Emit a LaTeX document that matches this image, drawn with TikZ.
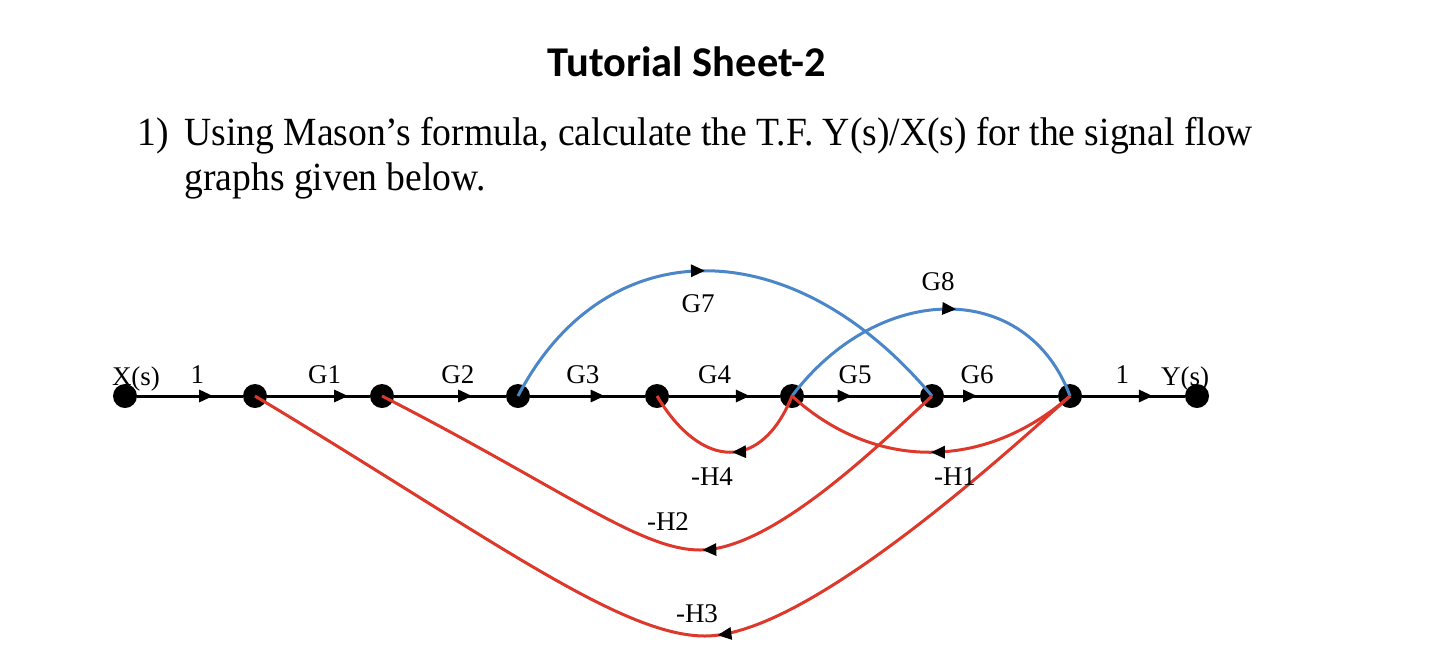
\documentclass[tikz,border=0pt]{standalone}
\usepackage{fontspec}
\setmainfont{Liberation Serif}
\newfontfamily\headfont{Carlito}
\newfontfamily\bodyfont[FakeStretch=0.94]{Liberation Serif}
\usetikzlibrary{arrows.meta}
\usetikzlibrary{decorations.markings}

\definecolor{fwdblue}{RGB}{74,134,200}
\definecolor{fbred}{RGB}{222,56,43}

\begin{document}
\begin{tikzpicture}[
    x=0.5pt, y=-0.5pt,
% Signal node style
    sig/.style={circle,fill=black,inner sep=0pt,minimum size=12pt},
    gain/.style={font={\fontsize{13.5pt}{16}\selectfont},inner sep=1pt,text depth=0pt},
    midarrow/.style={postaction={decorate},decoration={markings,
        mark=at position #1 with {\arrow{Triangle[length=7pt,width=6pt,color=black]}}}},
    branch/.style={line width=1.5pt,black},
    fwd/.style={line width=1.5pt,fwdblue},
    fb/.style={line width=1.5pt,fbred}
    ]

  \useasboundingbox (0,0) rectangle (1442,655);

  \node (title) at (687,62) [font={\headfont\bfseries\fontsize{21.2pt}{24}\selectfont}] {Tutorial Sheet-2};
  \node (num) at (137,145) [anchor=base west,inner sep=0pt,font={\bodyfont\fontsize{20pt}{22.5pt}\selectfont}] {1)};
  \node (question) at (184,117) [anchor=north west,inner sep=0pt,align=left,
    font={\bodyfont\fontsize{20pt}{22.5pt}\selectfont}]
    {Using Mason’s formula, calculate the T.F. Y(s)/X(s) for the signal flow\\graphs given below.};

  % signal nodes
  \node (x)  [sig] at (125,396) {};
  \node (n1) [sig] at (255,396) {};
  \node (n2) [sig] at (382,396) {};
  \node (n3) [sig] at (518,396) {};
  \node (n4) [sig] at (657,396) {};
  \node (n5) [sig] at (792,396) {};
  \node (n6) [sig] at (932,396) {};
  \node (n7) [sig] at (1070,396) {};
  \node (y)  [sig] at (1197,396) {};

  \node (xlbl) [gain,anchor=base] at (136,385) {X(s)};
  \node (ylbl) [gain,anchor=base] at (1185,385) {Y(s)};

  % forward branches
  \draw[branch,midarrow=0.72] (x)  -- node[gain,above=4.5pt,pos=0.57] {1} (n1);
  \draw[branch,midarrow=0.79] (n1) -- node[gain,above=4.5pt,pos=0.56] {G1} (n2);
  \draw[branch,midarrow=0.70] (n2) -- node[gain,above=4.5pt,pos=0.57] {G2} (n3);
  \draw[branch,midarrow=0.65] (n3) -- node[gain,above=4.5pt,pos=0.46] {G3} (n4);
  \draw[branch,midarrow=0.73] (n4) -- node[gain,above=4.5pt,pos=0.41] {G4} (n5);
  \draw[branch,midarrow=0.41] (n5) -- node[gain,above=4.5pt,pos=0.44] {G5} (n6);
  \draw[branch,midarrow=0.29] (n6) -- node[gain,above=4.5pt,pos=0.29] {G6} (n7);
  \draw[branch,midarrow=0.69] (n7) -- node[gain,above=4.5pt,pos=0.39] {1} (y);

  % feed-forward paths
  \draw[fwd,midarrow=0.47] (n3.center) .. controls (605,229) and (792,229) .. (n6.center);
  \draw[fwd,midarrow=0.56] (n5.center) .. controls (880,280) and (1027,280) .. (n7.center);
  \node (g7) [gain,anchor=base] at (698,312) {G7};
  \node (g8) [gain,anchor=base] at (938,290) {G8};

  % feedback loops
  \coordinate (h2low) at (700,550);
  \coordinate (h3low) at (705,636);
  \draw[fb,midarrow=0.47] (n5.center) .. controls (762,471) and (702,471) .. (n4.center);
  \draw[fb,midarrow=0.50] (n7.center) .. controls (985,471) and (874,471) .. (n5.center);
  \draw[fb,midarrow=0.44] (n6.center) .. controls (872,452) and (770,550) .. (h2low)
    .. controls (640,550) and (562,488) .. (n2.center);
  \draw[fb,midarrow=0.45] (n7.center) .. controls (962,494) and (795,636) .. (h3low)
    .. controls (620,636) and (485,534) .. (n1.center);
  \node (h4) [gain,anchor=base] at (712,485) {-H4};
  \node (h1) [gain,anchor=base] at (955,485) {-H1};
  \node (h2) [gain,anchor=base] at (668,530) {-H2};
  \node (h3) [gain,anchor=base] at (697,622) {-H3};

\end{tikzpicture}
\end{document}
